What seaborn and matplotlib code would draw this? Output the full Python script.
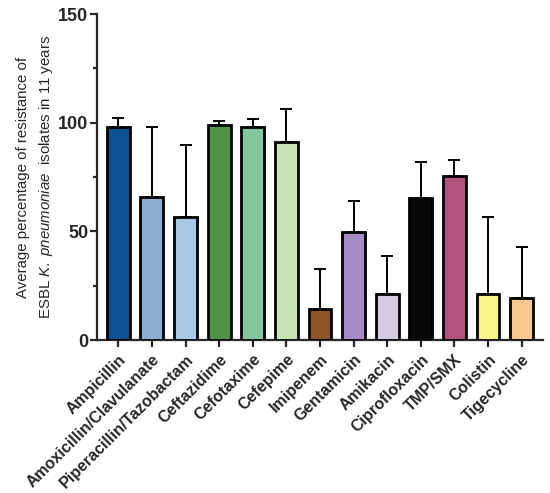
import numpy as np
import pandas as pd
import seaborn as sns
import matplotlib
matplotlib.use('Agg')
import matplotlib.pyplot as plt
from matplotlib.ticker import MultipleLocator

antibiotics = ['Ampicillin', 'Amoxicillin/Clavulanate', 'Piperacillin/Tazobactam',
               'Ceftazidime', 'Cefotaxime', 'Cefepime', 'Imipenem', 'Gentamicin',
               'Amikacin', 'Ciprofloxacin', 'TMP/SMX', 'Colistin', 'Tigecycline']
mean_resistance = [98.2, 66.0, 56.5, 98.8, 98.2, 91.3, 14.3, 49.5, 21.2, 65.3, 75.5, 21.0, 19.2]
sd_resistance = [3.8, 32.0, 33.1, 1.8, 3.5, 15.0, 18.5, 14.5, 17.5, 16.5, 7.2, 35.5, 23.5]
bar_colors = ['#0a5291', '#8aafcf', '#a8c8e6', '#4e9444', '#86c69e', '#c8e4b6',
              '#8f5424', '#a48bc2', '#d6cbe5', '#080808', '#b05279', '#f8f385', '#f8c98e']

df = pd.DataFrame({'antibiotic': antibiotics, 'mean': mean_resistance, 'sd': sd_resistance})

sns.set_style('ticks')
plt.rcParams['font.family'] = ['Liberation Sans', 'DejaVu Sans']
plt.rcParams['mathtext.fontset'] = 'custom'
plt.rcParams['mathtext.rm'] = 'Liberation Sans'
plt.rcParams['mathtext.it'] = 'Liberation Sans:italic'

fig = plt.figure(figsize=(5.5, 4.93), dpi=100)
ax = fig.add_axes([0.176, 0.3103, 0.811, 0.6613])

sns.barplot(data=df, x='antibiotic', y='mean', hue='antibiotic', palette=bar_colors,
            saturation=1, legend=False, width=0.68, edgecolor='black', linewidth=2.0,
            errorbar=None, ax=ax, zorder=3)

# upper error bars only
xs = np.arange(len(antibiotics))
ax.errorbar(xs, df['mean'], yerr=[np.zeros(len(xs)), df['sd']], fmt='none',
            ecolor='black', elinewidth=1.4, capsize=4.5, capthick=1.4, zorder=2)

ax.set_xlim(-0.64, len(antibiotics) - 0.37)
ax.set_ylim(0, 150)
ax.yaxis.set_major_locator(MultipleLocator(50))
ax.yaxis.set_minor_locator(MultipleLocator(25))

for s in ['top', 'right']:
    ax.spines[s].set_visible(False)
for s in ['left', 'bottom']:
    ax.spines[s].set_linewidth(1.6)
ax.tick_params(axis='both', which='major', width=1.6, length=5)
ax.tick_params(axis='y', which='major', labelsize=13, pad=1)
ax.tick_params(axis='y', which='minor', width=1.6, length=3)
for lab in ax.get_yticklabels():
    lab.set_fontweight('bold')
ax.set_xticks(xs)
ax.set_xticklabels(antibiotics, rotation=45, ha='right', rotation_mode='anchor',
                   fontweight='bold', fontsize=11.5)
ax.set_xlabel('')
ax.set_ylabel('Average percentage of resistance of\n'
              'ESBL $\\it{K.\\ pneumoniae}$  isolates in 11 years',
              fontsize=10.8, linespacing=1.55)
ax.yaxis.set_label_coords(-0.094, 0.5)

plt.savefig('out.png', dpi=100)
